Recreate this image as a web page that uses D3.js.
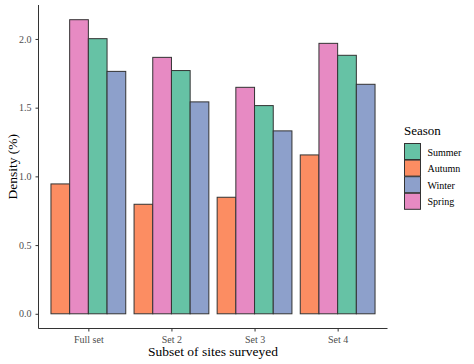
<!DOCTYPE html>
<html><head><meta charset="utf-8">
<script src="https://cdn.jsdelivr.net/npm/d3@7"></script>
<style>body{margin:0;background:#fff}svg{display:block}text{font-family:"Liberation Serif","Times New Roman",serif}</style>
</head><body><svg id="c" width="474" height="364"></svg>
<script>
const categories = ["Full set","Set 2","Set 3","Set 4"];
const barOrder = ["Autumn","Spring","Summer","Winter"];
const legendOrder = ["Summer","Autumn","Winter","Spring"];
const autumn = [0.945, 0.797, 0.848, 1.156];
const spring = [2.14, 1.866, 1.648, 1.968];
const summer = [2.002, 1.77, 1.515, 1.881];
const winter = [1.764, 1.542, 1.331, 1.670];
const yTicks = [0, 0.5, 1.0, 1.5, 2.0];
const colors = {Summer:"#66C2A5", Autumn:"#FC8D62", Winter:"#8DA0CB", Spring:"#E78AC3"};
const series = {Autumn:autumn, Spring:spring, Summer:summer, Winter:winter};

const svg = d3.select("#c");
const L = 38.5, R = 387.5, T = 5, B = 328.5;
const y = d3.scaleLinear().domain([-0.107, 2.247]).range([B, T]);
const x = d3.scaleLinear().domain([0.4, 4.6]).range([L, R]);
const gw = 0.9, bw = gw/4;

const data = [];
categories.forEach((c,i)=>barOrder.forEach((s,j)=>data.push({c, s, i, j, v: series[s][i]})));

svg.append("g").selectAll("rect").data(data).join("rect")
  .attr("x", d => x(i1(d) - gw/2 + d.j*bw))
  .attr("width", d => x(1+bw) - x(1))
  .attr("y", d => y(d.v))
  .attr("height", d => y(0) - y(d.v))
  .attr("fill", d => colors[d.s])
  .attr("stroke", "#333").attr("stroke-width", 1);
function i1(d){return d.i+1;}

// axes
const yAxis = svg.append("g").attr("transform",`translate(${L},0)`)
  .call(d3.axisLeft(y).tickValues(yTicks).tickFormat(d3.format(".1f")).tickSize(3).tickPadding(4));
const xAxis = svg.append("g").attr("transform",`translate(0,${B})`)
  .call(d3.axisBottom(x).tickValues([1,2,3,4]).tickFormat(d=>categories[d-1]).tickSize(3).tickPadding(4));
[yAxis,xAxis].forEach(a=>{
  a.select(".domain").attr("stroke","#333").attr("stroke-width",1);
  a.selectAll(".tick line").attr("stroke","#333");
  a.selectAll(".tick text").attr("fill","#4d4d4d").attr("font-size",10).attr("font-family","Liberation Serif, serif");
});
yAxis.select(".domain").attr("d",`M0,${T}V${B}`);
xAxis.select(".domain").attr("d",`M${L},0H${R}`);

svg.append("text").attr("x",x(2.5)).attr("y",356).attr("text-anchor","middle")
  .attr("font-size",13.5).attr("fill","#000").text("Subset of sites surveyed");
svg.append("text").attr("transform",`translate(17,${(T+B)/2}) rotate(-90)`).attr("text-anchor","middle")
  .attr("font-size",13.5).attr("fill","#000").text("Density (%)");

// legend
const lg = svg.append("g").attr("transform","translate(404,0)");
lg.append("text").attr("x",0).attr("y",135).attr("font-size",13).text("Season");
legendOrder.forEach((s,k)=>{
  const yy = 143.5 + k*16.6;
  lg.append("rect").attr("x",0.5).attr("y",yy).attr("width",16).attr("height",16)
    .attr("fill",colors[s]).attr("stroke","#333").attr("stroke-width",1);
  lg.append("text").attr("x",23.5).attr("y",yy+12).attr("font-size",10).text(s);
});
</script></body></html>
